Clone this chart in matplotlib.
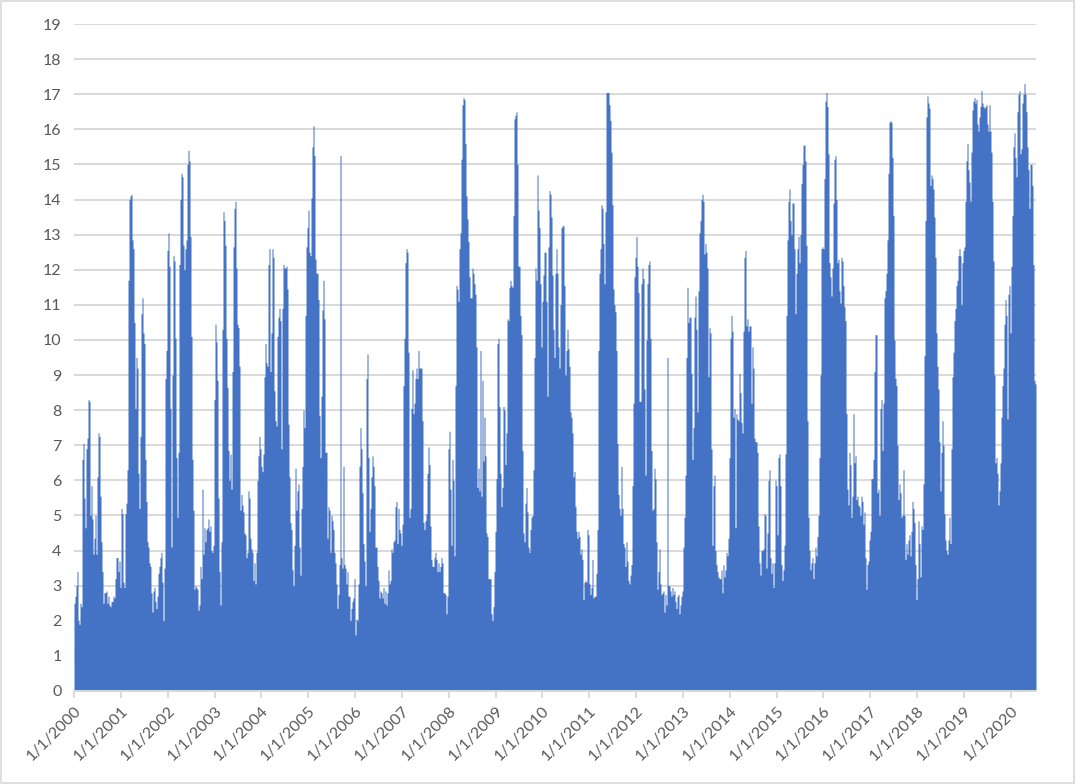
import numpy as np
import pandas as pd
import matplotlib
matplotlib.use("Agg")
import matplotlib.pyplot as plt
import matplotlib.dates as mdates
from matplotlib.patches import Rectangle

# values, one per pixel column of the chart
vals_a = [2.5,2.7,3.0,3.4,2.0,1.9,2.5,2.4,6.6,7.05,5.5,4.65,6.9,7.2,8.3,8.25,5.0,5.85,4.9,3.9,4.35,5.0,3.9,6.1,7.35,7.25,5.55,4.25,3.4,2.5,2.8,2.8,2.85,2.5,2.7,2.45,2.4,2.55,2.55,2.7,2.65,3.2,3.8,3.8,3.4,3.7,2.95,
5.2,5.05,3.1,2.95,5.05,5.35,6.3,11.7,14.0,14.1,14.15,12.85,12.6,10.5,8.05,9.5,9.2,6.2,5.2,7.25,10.75,11.2,10.2,9.9,6.6,5.4,4.25,4.1,3.65,3.55,2.8,2.25,2.85,2.95,2.55,2.35,2.7,3.35,3.55,3.8,3.95,3.1,2.0,3.5,8.9,9.7,
12.55,13.05,12.1,8.05,4.1,9.0,12.4,12.25,10.05,6.65,4.95,6.8,12.15,14.0,14.75,14.65,12.7,12.0,12.6,12.85,15.0,15.4,15.1,12.95,10.1,6.6,5.15,2.9,3.0,2.95,2.9,2.3,2.45,3.55,3.2,5.75,3.9,4.65,4.25,4.6,4.65,4.9,4.55,4.7,4.0,3.95,4.15,8.3,10.45,9.95,8.85,5.5,3.4,2.45,
4.25,10.3,13.65,13.4,12.7,10.05,8.65,6.85,6.0,6.75,5.75,9.1,12.65,13.75,13.95,12.05,10.45,10.35,9.25,5.15,5.6,5.3,5.1,4.5,4.45,3.8,3.95,5.7,5.5,4.35,4.05,3.95,3.15,3.65,3.05,3.95,6.0,6.7,7.25,6.9,6.4,6.25,6.75,8.95,9.9,9.35,9.25,12.15,12.6,9.1,10.2,12.6,12.35,8.55,7.7,7.55,10.1,10.65,10.9,10.55,6.9,10.9,12.15,12.05,12.05,12.1,11.45,7.6,6.1,4.8,4.6,3.45,3.0,4.15,6.35,5.15,5.7,5.9,4.1,3.3,5.2,6.4,8.0,7.5,10.7,12.65,13.2,13.7,12.5,12.4,14.05,15.5,16.1,15.25,12.3,11.9,11.9,11.15,7.85]

vals_b = [6.65,8.4,10.85,11.7,10.6,6.8,6.8,4.35,5.25,5.15,3.95,5.0,4.85,4.6,3.95,3.65,3.05,2.35,2.75,3.6,15.25,3.8,3.5,6.4,3.6,3.5,3.05,3.4,2.7,2.7,2.0,2.35,2.55,2.65,3.2,1.6,2.05,2.0,3.05,6.4,7.5,6.9,5.65,4.2,3.7,3.0,8.9,9.6,6.65,4.55,5.2,6.1,6.7,6.4,5.85,4.1,4.1,3.55,3.15,2.65,2.85,2.8,2.65,2.95,2.5,2.85,2.45,2.8,3.45,3.05,3.15,4.05,3.95,4.25,4.3,5.25,5.4,4.2,5.2,4.6,4.5,4.15,4.75,8.7,10.05,12.2,12.6,12.5,9.65,4.95,5.2,8.05,9.15,7.9,8.2,8.9,9.2,8.9,9.7,9.2,9.2,9.2,7.7,4.8,4.6,4.85,5.05,6.2,6.95,6.45,4.7,3.75,3.55,3.55,3.8,3.95,3.75,3.4,3.65,3.4,3.55,3.8,3.65,2.8,2.8,2.75,2.2,2.7,6.9,7.4,5.75,4.15,6.6,6.0,3.85,8.7,11.55,11.45,11.1,12.6,13.05,15.15,16.7,16.9,16.85,15.6,14.1,13.45,12.8,11.8,11.2,11.2,12.05,11.9,11.6,11.3,9.8,5.8,6.35,5.7,9.7,5.55,8.85,6.55,7.8,6.7,4.5,4.4,3.2,3.2,3.2,2.2,2.0,2.4,3.4,4.55,6.05,9.9,10.05,8.1,6.2,5.25,5.8,8.1,8.0,6.45,7.35,10.6,10.55,11.5,11.7,11.55,11.5,13.55,16.3,16.4,16.5,15.0,12.1,12.1,10.7,10.15,6.85,4.5,4.25,5.35,5.8,5.1,4.1,3.95,4.6,4.95,5.0,6.3,9.5,12.05,11.7,14.7,13.7,13.2,11.6,9.8,11.1,11.85,12.5,12.5,11.1,8.4,12.65,14.25,14.15,13.5,11.85,10.3,9.5,11.9,12.6,11.9,9.8,9.2,11.0,13.2,13.25,13.25,11.55,9.0,9.7,10.3,9.75,9.25]

vals_c = [7.95,7.8,7.35,6.1,6.25,5.25,4.55,4.35,4.55,4.4,3.9,4.05,3.75,2.6,3.1,3.15,3.1,4.6,4.45,3.05,2.75,2.95,3.75,2.65,2.7,2.7,3.35,4.6,9.7,11.9,12.6,13.85,13.75,12.75,11.6,13.65,17.05,17.05,17.05,16.7,16.25,15.35,13.85,11.45,11.0,10.8,9.7,7.05,5.6,5.2,5.0,6.4,5.2,4.2,4.1,3.55,4.25,3.7,3.15,3.05,3.3,3.6,5.85,8.2,11.8,12.35,12.95,12.1,11.35,8.25,8.25,11.6,12.05,11.75,8.6,6.15,10.0,11.6,12.15,12.25,10.05,6.85,5.15,5.2,6.35,6.05,4.25,2.9,3.4,4.05,3.05,2.75,2.8,2.85,2.25,2.75,2.45,9.5,3.0,3.0,2.85,2.7,2.95,2.75,2.85,2.55,2.35,2.7,2.75,2.2,2.45,2.7,2.85,4.1,4.95,6.15,9.5,11.5,10.5,10.65,10.65,9.05,6.6,7.5,10.65,11.25,10.3,7.95,11.4,13.05,13.4,14.0,14.15,13.95,12.45,12.75,12.5,12.05,8.95,10.35,10.2,6.9,4.15,5.85,6.15,4.0,3.6,3.4,3.25,3.2,3.2,3.45,2.8,3.6,3.25,3.45,3.95,3.85,4.35,6.65,10.05,10.7,10.25,7.8,8.05,4.65,7.9,7.75,7.7,9.05,8.5,7.65,7.35,10.25,12.35,12.55,10.4,10.6,10.25,10.4,10.4,8.2,9.8,9.2,7.2,7.1,7.1,6.8,4.7,3.65,3.3,4.0,4.0,4.05,5.05,5.0,3.5,4.5,6.0,6.3,3.8,3.35,3.65,2.95,3.65,6.0,5.85,4.45,6.65,6.75,5.85,3.6,3.15,3.45,4.15,6.75,10.7,12.85,13.95,14.3,13.4,13.0,13.9,13.9,12.6,10.75,11.9,12.6,12.95,12.2,13.0,14.45,15.0,15.55,15.55,15.1,12.7,7.7,4.95,4.0,3.45,3.65,3.8,3.2,3.65,4.1,3.85,4.4,5.0,6.65]

vals_d = [9.0,12.6,12.65,12.6,14.6,16.8,17.05,16.65,15.3,12.2,11.8,11.25,12.05,13.9,15.15,15.25,14.0,12.2,12.3,11.4,11.05,12.35,12.25,11.55,10.95,10.55,7.9,5.75,5.3,6.8,6.45,4.95,5.55,7.9,6.5,6.7,5.45,5.55,5.3,5.25,5.0,5.55,5.4,4.75,5.1,3.8,2.9,3.6,3.7,4.3,4.55,6.05,6.05,6.6,9.1,10.15,10.15,5.65,5.75,5.0,8.05,8.3,6.85,8.2,11.2,11.4,11.9,12.85,14.75,16.2,16.25,16.2,15.2,13.55,10.0,8.9,8.7,7.0,5.45,5.9,5.65,4.95,5.0,6.3,5.0,3.75,4.2,3.9,4.3,4.45,3.85,4.55,5.4,5.2,4.8,3.6,2.6,3.2,4.85,4.2,3.25,4.7,4.6,5.9,9.55,13.4,16.35,16.95,16.75,16.6,14.4,14.7,14.6,14.3,13.5,12.35,10.2,9.25,8.6,7.1,5.7,6.8,7.7,7.0,5.05,4.3,4.0,3.9,4.3,4.95,4.2,6.9,8.95,9.65,10.55,10.9,11.55,11.7,12.4,12.6,12.4,11.0,12.2,12.55,12.65,13.95,15.1,15.6,14.85,14.5,13.95,15.35,16.55,16.8,16.9,16.75,16.85,16.15,15.95,16.35,16.65,17.1,16.75,16.65,16.6,16.65,16.7,16.15,15.95,16.7,15.95,15.35,13.95,12.25,9.0,6.5,6.65,6.2,5.3,5.7,6.5,7.8,8.7,9.2,10.45,11.15,10.7,7.75,11.3,11.55,10.2,12.1,13.55,15.5,15.9,15.2,14.65,16.5,17.0,17.1,15.3,15.45,16.75,17.0,17.3,17.0,16.5,15.5,14.85,13.75,15.0,15.0,14.4,12.15,8.85,8.75]

y_ticks = list(range(0, 20))
years = list(range(2000, 2021))
x_labels = ["1/1/%d" % y for y in years]

values = np.array(vals_a + vals_b + vals_c + vals_d)
print("columns =", len(values))

start = mdates.date2num(pd.Timestamp("2000-01-01"))
days_per_col = 365.25 / 46.84
x = start + np.arange(len(values) + 1) * days_per_col

W, H = 1075, 784
fig = plt.figure(figsize=(W / 100, H / 100), dpi=100, facecolor="white")
ax = fig.add_axes([74 / W, (H - 691) / H, (1036 - 74) / W, (691 - 24) / H])

ax.fill_between(x, np.append(values, values[-1]), step="post", color="#4472C4",
                linewidth=0, antialiased=False, zorder=2)

ax.set_xlim(x[0], x[-1])
ax.set_ylim(0, 19)
ax.set_yticks(y_ticks)
ax.grid(axis="y", color="#D9D9D9", linewidth=1.4, zorder=1)
ax.set_axisbelow(True)

ticks = [mdates.date2num(pd.Timestamp(year=y, month=1, day=1)) for y in years]
ax.set_xticks(ticks)
ax.set_xticklabels(x_labels, rotation=45, ha="right", rotation_mode="anchor",
                   family="Lato", fontsize=11.5, color="#595959")
for lab in ax.get_yticklabels():
    lab.set_family("Lato")
    lab.set_fontsize(11.5)
    lab.set_color("#595959")

ax.tick_params(axis="y", length=0, pad=9)
ax.tick_params(axis="x", length=5, width=1.4, color="#D9D9D9", pad=4)

for side in ["top", "right", "left"]:
    ax.spines[side].set_visible(False)
ax.spines["bottom"].set_color("#D9D9D9")
ax.spines["bottom"].set_linewidth(1.4)

# chart border
fig.add_artist(Rectangle((0.001, 0.001), 0.998, 0.998, transform=fig.transFigure,
                         fill=False, edgecolor="#D9D9D9", linewidth=1.2))

fig.savefig("out.png", dpi=100)
